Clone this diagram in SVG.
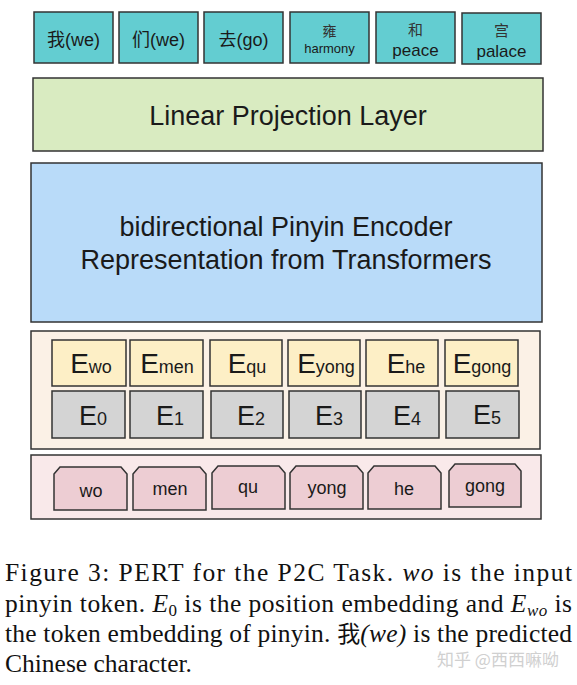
<svg xmlns="http://www.w3.org/2000/svg" width="577" height="685" viewBox="0 0 577 685">
<style>
.bx{stroke:#333;stroke-width:1.5}
.out{fill:#63cdd1}
.s{font-family:"Liberation Sans",Arial,"Noto Sans CJK SC",sans-serif;fill:#1a1a1a;text-anchor:middle}
.cjk{font-family:"Noto Sans CJK SC",sans-serif;fill:#333;text-anchor:middle}
.tok{fill:#fdefc6}
.pos{fill:#d4d4d4}
.pin{fill:#edcdd3}
.cap{font-family:"Liberation Serif","Times New Roman",serif;font-size:25.5px;fill:#111}
.it{font-style:italic}
</style>
<rect width="577" height="685" fill="#fff"/>
<g id="outputs">
<g id="out0"><rect class="bx out" x="34" y="12" width="79" height="51"/><text class="s" x="73.5" y="46" font-size="18">我(we)</text></g>
<g id="out1"><rect class="bx out" x="119" y="12" width="79" height="51"/><text class="s" x="158.5" y="46" font-size="18">们(we)</text></g>
<g id="out2"><rect class="bx out" x="204" y="12" width="79" height="51"/><text class="s" x="243.5" y="46" font-size="18">去(go)</text></g>
<g id="out3"><rect class="bx out" x="290" y="12" width="79" height="51"/><text class="cjk" x="329.5" y="36" font-size="14">雍</text><text class="s" x="329.5" y="53" font-size="13">harmony</text></g>
<g id="out4"><rect class="bx out" x="376" y="12" width="79" height="51"/><text class="cjk" x="415.5" y="35" font-size="15">和</text><text class="s" x="415.5" y="56" font-size="17">peace</text></g>
<g id="out5"><rect class="bx out" x="462" y="13" width="79" height="51"/><text class="cjk" x="501.5" y="36" font-size="15">宫</text><text class="s" x="501.5" y="57" font-size="17">palace</text></g>
</g>
<g id="linear"><rect class="bx" x="33" y="78" width="510" height="73" fill="#d9ebc1"/><text class="s" x="288" y="125" font-size="27">Linear Projection Layer</text></g>
<g id="encoder"><rect class="bx" x="31" y="163" width="511" height="159" fill="#b9dbf9"/><text class="s" x="286" y="236" font-size="27">bidirectional Pinyin Encoder</text><text class="s" x="286" y="269" font-size="27">Representation from Transformers</text></g>
<g id="embeddings">
<rect class="bx" x="31" y="331" width="509" height="118" fill="#fbf1e6"/>
<g id="tok0"><rect class="bx tok" x="52" y="340" width="74" height="46"/><text class="s" x="91" y="373" font-size="28">E<tspan font-size="18">wo</tspan></text></g>
<g id="tok1"><rect class="bx tok" x="130" y="340" width="73" height="46"/><text class="s" x="167" y="373" font-size="28">E<tspan font-size="18">men</tspan></text></g>
<g id="tok2"><rect class="bx tok" x="210" y="340" width="72" height="46"/><text class="s" x="247" y="373" font-size="28">E<tspan font-size="18">qu</tspan></text></g>
<g id="tok3"><rect class="bx tok" x="288" y="340" width="72" height="46"/><text class="s" x="326" y="373" font-size="28">E<tspan font-size="18">yong</tspan></text></g>
<g id="tok4"><rect class="bx tok" x="366" y="340" width="72" height="46"/><text class="s" x="406" y="373" font-size="28">E<tspan font-size="18">he</tspan></text></g>
<g id="tok5"><rect class="bx tok" x="445" y="340" width="73" height="46"/><text class="s" x="482" y="373" font-size="28">E<tspan font-size="18">gong</tspan></text></g>
<g id="pos0"><rect class="bx pos" x="52" y="391" width="73" height="47"/><text class="s" x="93" y="425" font-size="27">E<tspan font-size="18">0</tspan></text></g>
<g id="pos1"><rect class="bx pos" x="130" y="391" width="73" height="47"/><text class="s" x="170" y="425" font-size="27">E<tspan font-size="18">1</tspan></text></g>
<g id="pos2"><rect class="bx pos" x="211" y="391" width="72" height="47"/><text class="s" x="251" y="425" font-size="27">E<tspan font-size="18">2</tspan></text></g>
<g id="pos3"><rect class="bx pos" x="289" y="391" width="72" height="47"/><text class="s" x="329" y="425" font-size="27">E<tspan font-size="18">3</tspan></text></g>
<g id="pos4"><rect class="bx pos" x="366" y="391" width="73" height="47"/><text class="s" x="407" y="425" font-size="27">E<tspan font-size="18">4</tspan></text></g>
<g id="pos5"><rect class="bx pos" x="446" y="391" width="73" height="47"/><text class="s" x="487" y="424" font-size="27">E<tspan font-size="18">5</tspan></text></g>
</g>
<g id="inputs">
<rect class="bx" x="31" y="455" width="510" height="64" fill="#f9e9ea"/>
<g id="in0"><path class="bx pin" d="M54,474 L60,467 L121,467 L127,474 L127,510 L54,510 Z"/><text class="s" x="91" y="497" font-size="18">wo</text></g>
<g id="in1"><path class="bx pin" d="M133,474 L139,467 L200,467 L206,474 L206,510 L133,510 Z"/><text class="s" x="170" y="495" font-size="18">men</text></g>
<g id="in2"><path class="bx pin" d="M212,473 L218,466 L279,466 L285,473 L285,509 L212,509 Z"/><text class="s" x="248" y="493" font-size="18">qu</text></g>
<g id="in3"><path class="bx pin" d="M290,473 L296,466 L357,466 L363,473 L363,509 L290,509 Z"/><text class="s" x="327" y="494" font-size="18">yong</text></g>
<g id="in4"><path class="bx pin" d="M368,473 L374,466 L435,466 L441,473 L441,509 L368,509 Z"/><text class="s" x="404" y="495" font-size="18">he</text></g>
<g id="in5"><path class="bx pin" d="M449,471 L455,464 L515,464 L521,471 L521,507 L449,507 Z"/><text class="s" x="485" y="492" font-size="18">gong</text></g>
</g>
<g id="connectors"></g>
<g id="caption">
<text class="cap" x="5" y="581" textLength="567" lengthAdjust="spacing">Figure 3: PERT for the P2C Task.  <tspan class="it">wo</tspan> is the input</text>
<text class="cap" x="5" y="612" textLength="567" lengthAdjust="spacing">pinyin token. <tspan class="it">E</tspan><tspan font-size="17" dy="4">0</tspan><tspan dy="-4"> is the position embedding and </tspan><tspan class="it">E</tspan><tspan class="it" font-size="17" dy="4">wo</tspan><tspan dy="-4"> is</tspan></text>
<text class="cap" x="5" y="642" textLength="567" lengthAdjust="spacing">the token embedding of pinyin. <tspan font-family="Noto Sans CJK SC,sans-serif" font-size="23">我</tspan><tspan class="it">(we)</tspan> is the predicted</text>
<text class="cap" x="5" y="672">Chinese character.</text>
<text x="437" y="666" font-family="Noto Sans CJK SC,sans-serif" font-size="17" fill="#d0d0d0">知乎 @西西嘛呦</text>
</g>
</svg>
